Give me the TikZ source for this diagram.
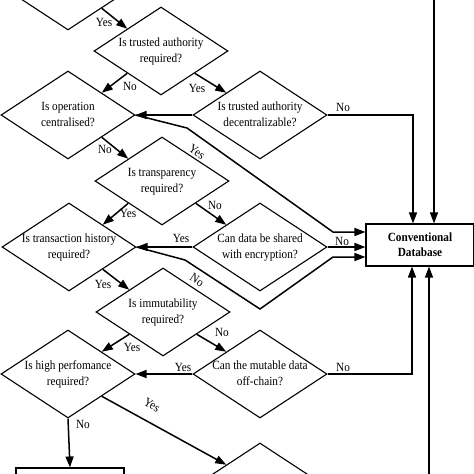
\documentclass[tikz,border=0pt]{standalone}
\usepackage{fontspec}
\setmainfont{Liberation Serif}[FakeStretch=0.9]
\usetikzlibrary{shapes.geometric,arrows.meta,calc}
\newcommand\dtext[1]{\makebox[0pt]{\begin{tabular}{@{}c@{}}#1\end{tabular}}}
\begin{document}
\begin{tikzpicture}[x=1pt,y=-1pt,
  every node/.style={font=\fontsize{12.5}{16}\selectfont},
  dia/.style={draw, line width=1.1pt, shape=diamond, aspect=1.52,
    minimum width=134pt, minimum height=88pt, inner sep=0pt},
  boxnode/.style={draw, line width=1.1pt, inner sep=0pt},
  lbl/.style={inner sep=0.5pt},
  conn/.style={line width=1.5pt, -{Triangle[length=11pt,width=8pt]}},
  thinconn/.style={line width=1.2pt, -{Triangle[length=11pt,width=8pt]}}
]
\useasboundingbox (0,0) rectangle (474,474);

% decision diamonds
\node[dia] (d1) at (68,-14) {};
\node[dia] (d2) at (161,51) {\dtext{Is trusted authority\\required?}};
\node[dia] (d3) at (260,115) {\dtext{Is trusted authority\\decentralizable?}};
\node[dia] (d4) at (68,115) {\dtext{Is operation\\centralised?}};
\node[dia] (d5) at (162,181) {\dtext{Is transparency\\required?}};
\node[dia] (d6) at (69,247) {\dtext{Is transaction history\\required?}};
\node[dia] (d7) at (260,247) {\dtext{Can data be shared\\with encryption?}};
\node[dia] (d8) at (163,312) {\dtext{Is immutability\\required?}};
\node[dia] (d9) at (68,374) {\dtext{Is high perfomance\\required?}};
\node[dia] (d10) at (260,374) {\dtext{Can the mutable data\\off-chain?}};
\node[dia] (d11) at (260,487) {};

% boxes
\node[boxnode, minimum width=108pt, minimum height=42pt,
  font=\fontsize{12.5}{15}\selectfont\bfseries, align=center] (db) at (420,245) {Conventional\\Database};
\node[boxnode, minimum width=108pt, minimum height=44pt] (bl) at (70,490) {};

% bend points
\coordinate (c3) at (413,115);
\coordinate (c10) at (412,374);
\coordinate (topin) at (434,-3);
\coordinate (botin) at (429,478);
\coordinate (b4a) at (187,128);
\coordinate (b4b) at (333,232);
\coordinate (b6a) at (185,260);
\coordinate (b6b) at (260,309);
\coordinate (b6c) at (333,257);

% diagonal steps
\draw[conn] ($(d1.south)!.5!(d1.east)$) -- ($(d2.north)!.5!(d2.west)$);
\draw[conn] ($(d2.south)!.5!(d2.west)$) -- ($(d4.north)!.5!(d4.east)$);
\draw[conn] ($(d2.south)!.5!(d2.east)$) -- ($(d3.north)!.5!(d3.west)$);
\draw[conn] ($(d4.south)!.5!(d4.east)$) -- ($(d5.north)!.5!(d5.west)$);
\draw[conn] ($(d5.south)!.5!(d5.west)$) -- ($(d6.north)!.5!(d6.east)$);
\draw[conn] ($(d5.south)!.5!(d5.east)$) -- ($(d7.north)!.5!(d7.west)$);
\draw[conn] ($(d6.south)!.5!(d6.east)$) -- ($(d8.north)!.5!(d8.west)$);
\draw[conn] ($(d8.south)!.5!(d8.west)$) -- ($(d9.north)!.5!(d9.east)$);
\draw[conn] ($(d8.south)!.5!(d8.east)$) -- ($(d10.north)!.5!(d10.west)$);
\draw[conn] ($(d9.south)!.5!(d9.east)$) -- ($(d11.north)!.5!(d11.west)$);

% horizontal returns
\draw[conn] (d3.west) -- (d4.east);
\draw[conn] (d7.west) -- (d6.east);
\draw[conn] (d10.west) -- (d9.east);
\draw[conn] (d9.south) -- (bl.north);

% to conventional database
\draw[conn] (d3.east) -- (c3) -- (c3 |- db.north);
\draw[conn] (d10.east) -- (c10) -- (c10 |- db.south);
\draw[thinconn] (topin) -- (topin |- db.north);
\draw[thinconn] (botin) -- (botin |- db.south);
\draw[conn] (d4.east) -- (b4a) -- (b4b) -- (b4b -| db.west);
\draw[conn] (d7.east) -- (d7.east -| db.west);
\draw[conn] (d6.east) -- (b6a) -- (b6b) -- (b6c) -- (b6c -| db.west);

% labels
\node[lbl] (l1) at (104,22) {Yes};
\node[lbl] (l2) at (130,86) {No};
\node[lbl] (l3) at (197,88) {Yes};
\node[lbl] (l4) at (343,107) {No};
\node[lbl, rotate=-35] (l5) at (197,152) {Yes};
\node[lbl] (l6) at (105,149) {No};
\node[lbl] (l7) at (128,213) {Yes};
\node[lbl] (l8) at (215,205) {No};
\node[lbl] (l9) at (181,238) {Yes};
\node[lbl] (l10) at (342,241) {No};
\node[lbl, rotate=-33] (l11) at (197,280) {No};
\node[lbl] (l12) at (103,284) {Yes};
\node[lbl] (l13) at (132,347) {Yes};
\node[lbl] (l14) at (222,332) {No};
\node[lbl] (l15) at (183,367) {Yes};
\node[lbl] (l16) at (343,367) {No};
\node[lbl] (l17) at (83,424) {No};
\node[lbl, rotate=-31] (l18) at (152,405) {Yes};
\end{tikzpicture}
\end{document}
